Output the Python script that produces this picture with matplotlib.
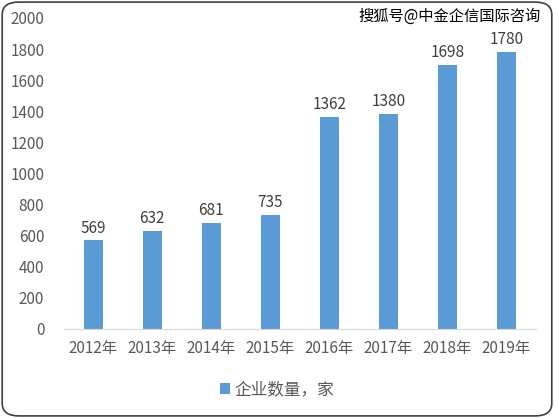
import matplotlib
matplotlib.use("Agg")
import matplotlib.pyplot as plt
from matplotlib.patches import FancyBboxPatch
import numpy as np

plt.rcParams['font.family'] = ['Noto Sans CJK SC', 'DejaVu Sans']

years = ["2012年", "2013年", "2014年", "2015年", "2016年", "2017年", "2018年", "2019年"]
counts = [569, 632, 681, 735, 1362, 1380, 1698, 1780]
series_name = "企业数量，家"
watermark = "搜狐号@中金企信国际咨询"

bar_color = "#5B9BD5"
text_color = "#595959"

fig = plt.figure(figsize=(5.54, 4.18), dpi=100)
ax = fig.add_axes([0.115, 0.213, 0.852, 0.744])

x = np.arange(len(years))
bars = ax.bar(x, counts, width=0.32, color=bar_color, label=series_name)

# value labels above bars
for b in bars:
    ax.text(b.get_x() + b.get_width() / 2, b.get_height() + 25,
            f"{int(b.get_height())}", ha="center", va="bottom",
            fontsize=11, color="#404040")

ax.set_xlim(-0.5, len(years) - 0.5)
ax.set_ylim(0, 2000)
ax.set_yticks(range(0, 2001, 200))
ax.set_xticks(x)
ax.set_xticklabels(years)
ax.tick_params(axis="both", length=0, labelsize=11, colors=text_color)
ax.tick_params(axis="y", pad=14)
ax.tick_params(axis="x", pad=8)

for s in ["top", "right", "left"]:
    ax.spines[s].set_visible(False)
ax.spines["bottom"].set_color("#D9D9D9")

leg = fig.legend(loc="center", bbox_to_anchor=(0.5, 0.067), frameon=False,
                 fontsize=12, handlelength=0.6, handleheight=0.6, handletextpad=0.3)
for t in leg.get_texts():
    t.set_color(text_color)

fig.text(0.975, 0.962, watermark, ha="right", va="center",
         fontsize=11, color="black", fontweight="medium")

# rounded outer border
border = FancyBboxPatch((0.004, 0.005), 0.992, 0.99,
                        boxstyle="round,pad=0,rounding_size=0.03",
                        transform=fig.transFigure, fill=False,
                        edgecolor="#404040", linewidth=1.2)
fig.patches.append(border)

fig.savefig("out.png", dpi=100)
